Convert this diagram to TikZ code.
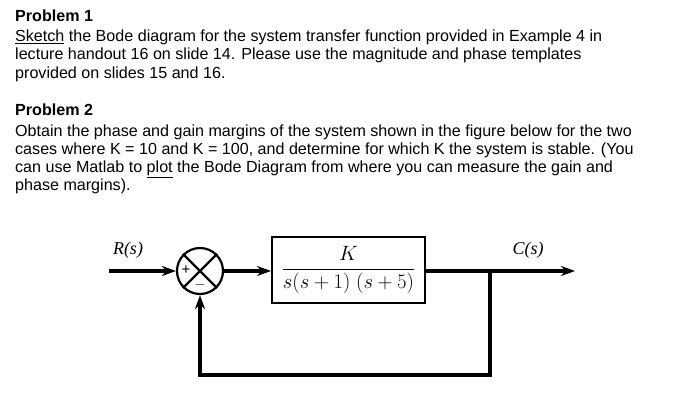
\documentclass[tikz,border=0pt]{standalone}
\usepackage{fontspec}
\setmainfont{Liberation Sans}
\newfontfamily\serif{Liberation Serif}
\usetikzlibrary{arrows.meta}
\begin{document}
\begin{tikzpicture}[x=1pt,y=-1pt,
  txt/.style={anchor=base west,inner sep=0pt,font=\fontsize{16.1}{19}\selectfont},
  wire/.style={line width=3.6pt},
  arr/.style={wire,-{Stealth[length=14pt,width=10pt]}},
  lab/.style={font=\serif\fontsize{18}{20}\selectfont\itshape,inner sep=0pt}]
\useasboundingbox[fill=white] (0,0) rectangle (678,404);
\node[txt] (p1) at (15,22) {\textbf{Problem 1}};
\node[txt] (l1) at (15,42) {\underline{Sketch} the Bode diagram for the system transfer function provided in Example 4 in};
\node[txt] (l2) at (15,60) {lecture handout 16 on slide 14. Please use the magnitude and phase templates};
\node[txt] (l3) at (15,78) {provided on slides 15 and 16.};
\node[txt] (p2) at (15,116) {\textbf{Problem 2}};
\node[txt] (m1) at (15,136) {Obtain the phase and gain margins of the system shown in the figure below for the two};
\node[txt] (m2) at (15,154) {cases where K = 10 and K = 100, and determine for which K the system is stable. (You};
\node[txt] (m3) at (15,172) {can use Matlab to \underline{plot} the Bode Diagram from where you can measure the gain and};
\node[txt] (m4) at (15,190) {phase margins).};
% block diagram
\coordinate (in) at (109,271);
\node[circle,draw,line width=2.2pt,minimum size=46pt,inner sep=0pt] (sum) at (200,271) {};
\draw[line width=2.2pt] (sum.north west)--(sum.south east) (sum.north east)--(sum.south west);
\node[font=\fontsize{15}{16}\selectfont] (plus) at (186,270) {+};
\node[font=\fontsize{15}{16}\selectfont] (minus) at (200,285) {$-$};
\node[draw,line width=2pt,minimum width=153pt,minimum height=66pt,inner sep=0pt] (G) at (348.5,270)
  {\fontsize{21}{24}\selectfont$\displaystyle\frac{K}{s(s+1)\;(s+5)}$};
\coordinate (br) at (490,271);
\coordinate (out) at (575,271);
\coordinate (fb1) at (490,375);
\coordinate (fb2) at (200,375);
\draw[arr] (in)--(sum.west);
\draw[arr] (sum.east)--(G.west|-sum.east);
\draw[wire] (G.east|-br)--(br);
\draw[arr] (br)--(out);
\draw[arr] (br)--(fb1)--(fb2)--(sum.south);
\node[lab] (R) at (128,250) {R(s)};
\node[lab] (C) at (528,250) {C(s)};
\end{tikzpicture}
\end{document}
